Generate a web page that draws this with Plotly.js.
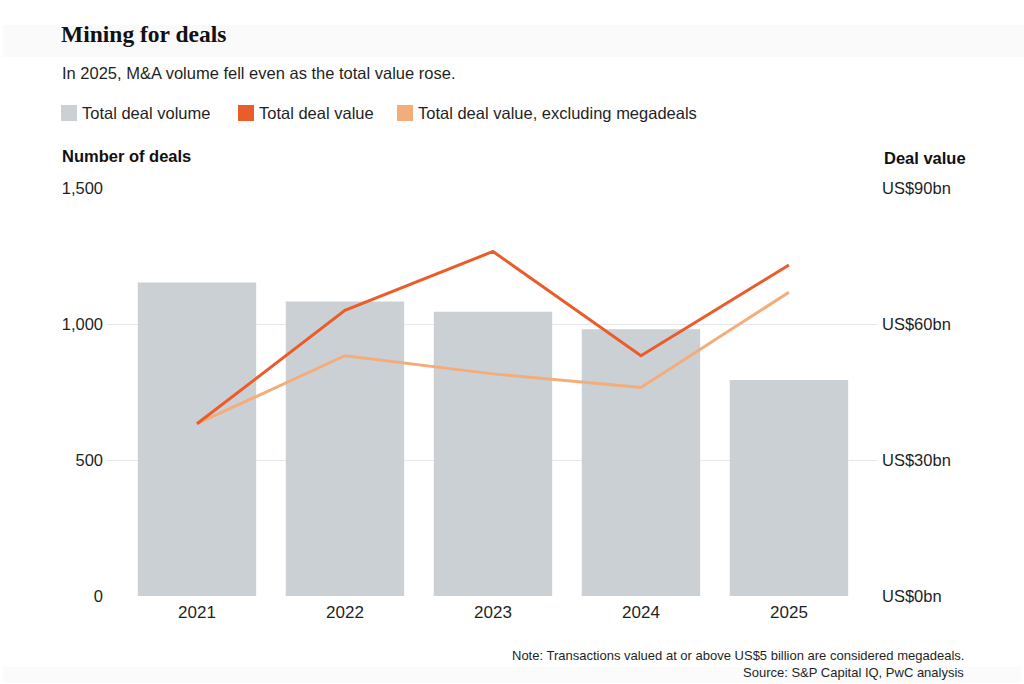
<!DOCTYPE html>
<html>
<head>
<meta charset="utf-8">
<script src="https://cdn.plot.ly/plotly-3.0.1.min.js"></script>
<style>
  html, body { margin: 0; padding: 0; background: #ffffff; }
  #chart { width: 1024px; height: 684px; }
</style>
</head>
<body>
<div id="chart"></div>
<script>
// Mining M&A: deal counts (bars, left axis) and deal values in US$bn (lines, right axis)
const years = ["2021", "2022", "2023", "2024", "2025"];
const dealVolume = [1153, 1083, 1045, 981, 794];
const dealValue = [38, 63, 76, 53, 73];
const dealValueExMega = [38, 53, 49, 46, 67];

const leftTicks = [0, 500, 1000, 1500];
const rightTicks = [0, 30, 60, 90];
const rightTickText = rightTicks.map(v => "US$" + v + "bn");

const W = 1024, H = 684;
const M = { l: 107, r: 147, t: 188, b: 88 };
const plotW = W - M.l - M.r, plotH = H - M.t - M.b;
// pixel -> paper coordinate helpers for decorations outside the plot area
const px = x => (x - M.l) / plotW;
const py = y => (H - M.b - y) / plotH;

const ink = "#1f1f1f";
const grey = "#cbd0d4";
const orange = "#ea5d2b";
const peach = "#f3ad7a";
const font = "Liberation Sans, Arial, sans-serif";

const traces = [
  {
    type: "bar", x: years, y: dealVolume, name: "Total deal volume",
    marker: { color: grey }, yaxis: "y", hoverinfo: "skip"
  },
  {
    type: "scatter", mode: "lines", x: years, y: dealValueExMega,
    name: "Total deal value, excluding megadeals",
    line: { color: peach, width: 3 }, yaxis: "y2", hoverinfo: "skip"
  },
  {
    type: "scatter", mode: "lines", x: years, y: dealValue,
    name: "Total deal value",
    line: { color: orange, width: 3 }, yaxis: "y2", hoverinfo: "skip"
  }
];

// hand-built legend with square swatches
const legendItems = [
  { x: 61, color: grey, label: "Total deal volume" },
  { x: 238, color: orange, label: "Total deal value" },
  { x: 397, color: peach, label: "Total deal value, excluding megadeals" }
];

const shapes = [
  // faint header band
  { type: "rect", xref: "paper", yref: "paper", x0: px(3), x1: px(W), y0: py(57), y1: py(25),
    fillcolor: "#fafafa", line: { width: 0 }, layer: "below" },
  // faint footer band
  { type: "rect", xref: "paper", yref: "paper", x0: px(3), x1: px(W - 3), y0: py(683), y1: py(667),
    fillcolor: "#fbfbfb", line: { width: 0 }, layer: "below" }
];
const annotations = [];

legendItems.forEach(it => {
  shapes.push({
    type: "rect", xref: "paper", yref: "paper",
    x0: px(it.x), x1: px(it.x + 16), y0: py(121), y1: py(105),
    fillcolor: it.color, line: { width: 0 }
  });
  annotations.push({
    xref: "paper", yref: "paper", x: px(it.x + 19), y: py(113),
    xanchor: "left", yanchor: "middle", showarrow: false,
    text: it.label, font: { family: font, size: 16.5, color: ink }
  });
});

annotations.push(
  { xref: "paper", yref: "paper", x: px(60), y: py(73), xanchor: "left", yanchor: "middle",
    showarrow: false, text: "In 2025, M&A volume fell even as the total value rose.",
    font: { family: font, size: 16.5, color: ink } },
  { xref: "paper", yref: "paper", x: px(60), y: py(156), xanchor: "left", yanchor: "middle",
    showarrow: false, text: "<b>Number of deals</b>",
    font: { family: font, size: 16.5, color: "#111" } },
  { xref: "paper", yref: "paper", x: px(882), y: py(158), xanchor: "left", yanchor: "middle",
    showarrow: false, text: "<b>Deal value</b>",
    font: { family: font, size: 16.5, color: "#111" } },
  { xref: "paper", yref: "paper", x: px(966), y: py(655), xanchor: "right", yanchor: "middle",
    showarrow: false, text: "Note: Transactions valued at or above US$5 billion are considered megadeals.",
    font: { family: font, size: 13, color: ink } },
  { xref: "paper", yref: "paper", x: px(966), y: py(672), xanchor: "right", yanchor: "middle",
    showarrow: false, text: "Source: S&P Capital IQ, PwC analysis",
    font: { family: font, size: 13, color: ink } }
);

const layout = {
  width: W, height: H,
  margin: M,
  paper_bgcolor: "#ffffff",
  plot_bgcolor: "#ffffff",
  showlegend: false,
  hovermode: false,
  bargap: 0.2,
  title: {
    text: "<b>Mining for deals</b>",
    font: { family: "Liberation Serif, DejaVu Serif, serif", size: 23.5, color: "#111" },
    xref: "container", yref: "container",
    x: 61 / W, xanchor: "left",
    y: 1 - 34 / H, yanchor: "middle"
  },
  xaxis: {
    type: "category",
    range: [-0.608, 4.595],
    showgrid: false, zeroline: false, showline: false,
    ticks: "", ticklabelstandoff: 4,
    tickfont: { family: font, size: 17, color: ink },
    fixedrange: true
  },
  yaxis: {
    range: [0, 1500],
    tickvals: leftTicks,
    tickformat: ",d",
    showgrid: true, gridcolor: "#e6e8eb", gridwidth: 1,
    zeroline: false, showline: false, ticks: "",
    tickfont: { family: font, size: 16.5, color: ink },
    ticklabelstandoff: 3,
    fixedrange: true
  },
  yaxis2: {
    overlaying: "y", side: "right",
    range: [0, 90],
    tickmode: "array",
    tickvals: rightTicks,
    ticktext: rightTickText,
    showgrid: false, zeroline: false, showline: false, ticks: "",
    tickfont: { family: font, size: 16.5, color: ink },
    ticklabelstandoff: 4,
    fixedrange: true
  },
  shapes: shapes,
  annotations: annotations
};

Plotly.newPlot("chart", traces, layout, { displayModeBar: false, staticPlot: true });
</script>
</body>
</html>
